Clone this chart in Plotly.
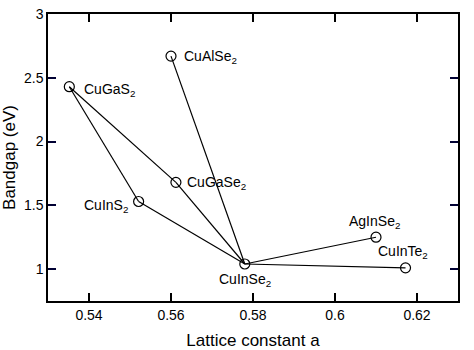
import plotly.graph_objects as go

names = ["CuGaS2", "CuAlSe2", "CuGaSe2", "CuInS2", "CuInSe2", "AgInSe2", "CuInTe2"]
labels = ["CuGaS<sub>2</sub>", "CuAlSe<sub>2</sub>", "CuGaSe<sub>2</sub>", "CuInS<sub>2</sub>",
          "CuInSe<sub>2</sub>", "AgInSe<sub>2</sub>", "CuInTe<sub>2</sub>"]
lattice = [0.5352, 0.5600, 0.5612, 0.5521, 0.5780, 0.6100, 0.6172]
bandgap = [2.43, 2.67, 1.68, 1.53, 1.04, 1.25, 1.01]
links = [("CuGaS2", "CuInS2"), ("CuInS2", "CuInSe2"), ("CuGaS2", "CuGaSe2"),
         ("CuGaSe2", "CuInSe2"), ("CuAlSe2", "CuInSe2"), ("CuInSe2", "AgInSe2"),
         ("CuInSe2", "CuInTe2")]
x_range = [0.53, 0.63]
y_range = [0.75, 3]
x_tick_step = 0.02
y_tick_step = 0.5

FONT = "Liberation Sans, Arial, Helvetica"
idx = {n: i for i, n in enumerate(names)}
fig = go.Figure()
for a, b in links:
    fig.add_trace(go.Scatter(x=[lattice[idx[a]], lattice[idx[b]]],
                             y=[bandgap[idx[a]], bandgap[idx[b]]],
                             mode="lines", line=dict(color="black", width=1.2),
                             hoverinfo="skip", showlegend=False))
fig.add_trace(go.Scatter(x=lattice, y=bandgap, mode="markers",
                         marker=dict(symbol="circle-open", size=10,
                                     line=dict(color="black", width=1.2), color="black"),
                         showlegend=False))

place = {
    "CuGaS2": ("left", "middle", 13, -3),
    "CuAlSe2": ("left", "middle", 11, -1),
    "CuGaSe2": ("left", "middle", 9, -1),
    "CuInS2": ("right", "middle", -9, -4),
    "CuInSe2": ("center", "top", 0, -5),
    "AgInSe2": ("center", "bottom", -2, 4),
    "CuInTe2": ("center", "bottom", -3, 5),
}
for n, lab, xv, yv in zip(names, labels, lattice, bandgap):
    xa, ya, xs, ys = place[n]
    fig.add_annotation(x=xv, y=yv, text=lab, showarrow=False, xanchor=xa, yanchor=ya,
                       xshift=xs, yshift=ys,
                       font=dict(family=FONT, size=14, color="black"))

fig.update_xaxes(range=x_range, tickmode="linear", tick0=0.54, dtick=x_tick_step,
                 showline=True, linecolor="black", linewidth=1.5, mirror="ticks",
                 ticks="inside", ticklen=8, tickwidth=2, tickcolor="black",
                 showgrid=False, zeroline=False, automargin=False,
                 tickfont=dict(family=FONT, size=14, color="black"),
                 title=dict(text="Lattice constant a",
                            font=dict(family=FONT, size=17, color="black")))
fig.update_yaxes(range=y_range, tickmode="linear", tick0=1, dtick=y_tick_step,
                 showline=True, linecolor="black", linewidth=1.5, mirror="ticks",
                 ticks="inside", ticklen=8, tickwidth=2, tickcolor="#000033",
                 showgrid=False, zeroline=False, automargin=False,
                 tickfont=dict(family=FONT, size=14, color="black"),
                 title=dict(text="Bandgap (eV)",
                            font=dict(family=FONT, size=17, color="black")))
fig.update_layout(width=474, height=350, margin=dict(l=48, r=16, t=14, b=49),
                  plot_bgcolor="white", paper_bgcolor="white")
fig.write_html("out.html")
